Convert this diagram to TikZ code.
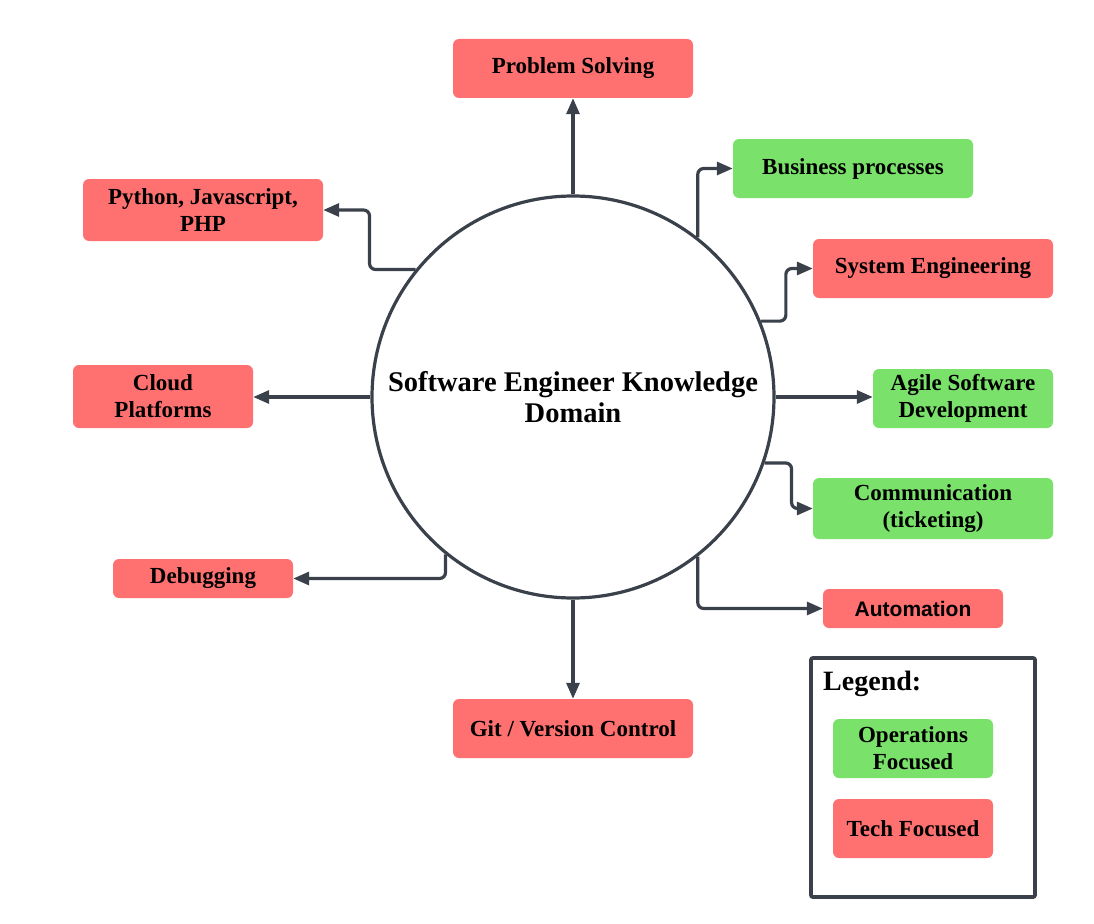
\documentclass[tikz,border=0pt]{standalone}
\usepackage{fontspec}
\setmainfont{Liberation Serif}
\newfontfamily\sansfam{Liberation Sans}
\usetikzlibrary{arrows.meta}
\definecolor{redbox}{HTML}{FF7070}
\definecolor{greenbox}{HTML}{7AE26A}
\definecolor{linec}{HTML}{3A414B}
\tikzset{
  box/.style={rounded corners=6pt, draw=none, align=center, inner sep=2pt,
    font=\bfseries\fontsize{23}{27}\selectfont, text=black},
  tech/.style={box, fill=redbox},
  ops/.style={box, fill=greenbox},
  conn/.style={draw=linec, line width=3.2pt, rounded corners=6pt,
    -{Triangle[length=16pt,width=13pt]}},
}
\begin{document}
\begin{tikzpicture}[x=1pt,y=-1pt]
\useasboundingbox (0,0) rectangle (1094,923);
\node[circle, draw=linec, line width=3.2pt, fill=white, minimum size=402pt, inner sep=0pt,
  align=center, font=\bfseries\fontsize{28.5}{31}\selectfont] (c) at (573,397)
  {Software Engineer Knowledge\\Domain};

\node[tech, minimum width=240pt, minimum height=59pt] (ps) at (573,68.5) {Problem Solving};
\node[ops, minimum width=240pt, minimum height=59pt] (bp) at (853,168.5) {Business processes};
\node[tech, minimum width=240pt, minimum height=59pt] (se) at (933,268.5) {System Engineering};
\node[ops, minimum width=180pt, minimum height=59pt] (ag) at (963,398.5) {Agile Software\\Development};
\node[ops, minimum width=240pt, minimum height=61pt] (cm) at (933,508.5) {Communication\\(ticketing)};
\node[tech, minimum width=180pt, minimum height=39pt, font=\sansfam\bfseries\fontsize{21}{24}\selectfont] (au) at (913,608.5) {Automation};
\node[tech, minimum width=240pt, minimum height=59pt] (gv) at (573,728.5) {Git / Version Control};
\node[tech, minimum width=180pt, minimum height=39pt] (db) at (203,578.5) {Debugging};
\node[tech, minimum width=180pt, minimum height=63pt] (cp) at (163,396.5) {Cloud\\Platforms};
\node[tech, minimum width=240pt, minimum height=62pt] (py) at (203,210) {Python, Javascript,\\PHP};

\draw[conn] (c.north) -- (ps.south);
\draw[conn] (c.52.9) |- (bp.west);
\draw[conn] (c.22.9) -- ++(25,0) |- (se.west);
\draw[conn] (c.east) -- (c.east -| ag.west);
\draw[conn] (c.-19.5) -- ++(27,0) |- (cm.west);
\draw[conn] (c.-52.6) |- (au.west);
\draw[conn] (c.south) -- (gv.north);
\draw[conn] (c.231) |- (db.east);
\draw[conn] (c.west) -- (c.west -| cp.east);
\draw[conn] (c.141) -- ++(-46,0) |- (py.east);

% Legend
\node[draw=linec, line width=3.8pt, rounded corners=2pt, minimum width=224pt, minimum height=239pt, inner sep=0pt] (lg) at (923,777.5) {};
\node[anchor=west, font=\bfseries\fontsize{28}{30}\selectfont, inner sep=0pt] (lgt) at (823,684) {Legend:};
\node[ops, minimum width=160pt, minimum height=59pt] (lo) at (913,748.5) {Operations\\Focused};
\node[tech, minimum width=160pt, minimum height=59pt] (lt) at (913,828.5) {Tech Focused};
\end{tikzpicture}
\end{document}
